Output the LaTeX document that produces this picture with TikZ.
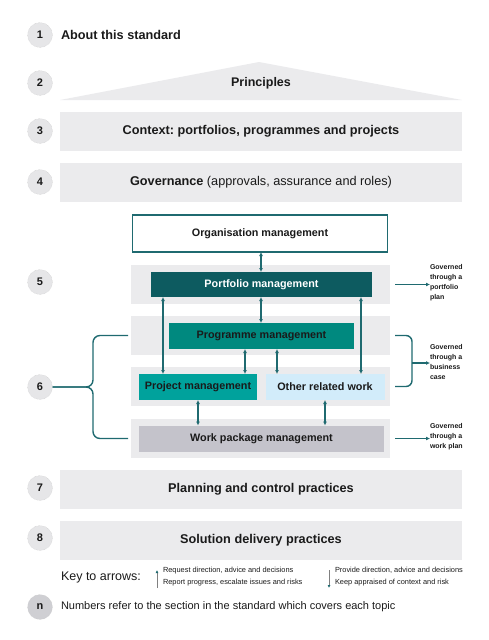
\documentclass[tikz,border=0pt]{standalone}
\usepackage{fontspec}
\setmainfont{Liberation Sans}
\usetikzlibrary{arrows.meta,calc}
\frenchspacing
\definecolor{bandgray}{HTML}{EBEBED}
\definecolor{circgray}{HTML}{E6E6E8}
\definecolor{ngray}{HTML}{CFCFD3}
\definecolor{tealdark}{HTML}{0D5B60}
\definecolor{tealmid}{HTML}{00897F}
\definecolor{teallight}{HTML}{00A29C}
\definecolor{paleblue}{HTML}{D2ECFA}
\definecolor{wpgray}{HTML}{C4C3CB}
\definecolor{linecol}{HTML}{1F6A70}
\definecolor{txt}{HTML}{1A1A1A}
\begin{document}
\begin{tikzpicture}[x=1pt,y=-1pt,
  every node/.style={text=txt, inner sep=0pt, outer sep=0pt},
  num/.style={circle, minimum size=25pt, fill=circgray, draw=gray!45, densely dotted, line width=0.4pt,
    font=\fontsize{11}{13}\selectfont\bfseries},
  band/.style={fill=bandgray, draw=none, rectangle},
  bigbox/.style={band, font=\fontsize{12.7}{15}\selectfont\bfseries},
  mbox/.style={rectangle, font=\fontsize{10.8}{13}\selectfont\bfseries},
  gov/.style={align=left, anchor=west, font=\fontsize{7}{10}\selectfont\bfseries},
  keytxt/.style={align=left, anchor=west, font=\fontsize{7.4}{12}\selectfont},
  conn/.style={draw=linecol, line width=1.4pt},
  dbl/.style={conn, {Latex[length=4pt,width=4pt]}-{Latex[length=4pt,width=4pt]}},
  sgl/.style={conn, -{Latex[length=4pt,width=4pt]}},
  keyarrow/.style={draw=gray, line width=0.7pt, -{Latex[length=3pt,width=3pt,color=linecol]}},
]
\useasboundingbox (0,0) rectangle (489,640);

% circles
\node[num] (c1) at (40,35) {1};
\node[num] (c2) at (40,83) {2};
\node[num] (c3) at (40,131) {3};
\node[num] (c4) at (40,182) {4};
\node[num] (c5) at (40,282) {5};
\node[num] (c6) at (40,387) {6};
\node[num] (c7) at (40,488) {7};
\node[num] (c8) at (40,538) {8};
\node[num, fill=ngray] (cn) at (40,607) {n};

% 1
\node[anchor=west, font=\fontsize{12.7}{15}\selectfont\bfseries] (about) at (61,35) {About this standard};

% 2 principles
\fill[bandgray] (60,100) -- (259,62) -- (462,100) -- cycle;
\node[font=\fontsize{12.5}{15}\selectfont\bfseries] (princ) at (261,83) {Principles};

% 3,4,7,8
\node[bigbox, minimum width=402pt, minimum height=39pt] (ctx) at (261,131.5) {Context: portfolios, programmes and projects};
\node[bigbox, minimum width=402pt, minimum height=39pt] (govn) at (261,182.5) {Governance \fontseries{m}\selectfont(approvals, assurance and roles)};
\node[bigbox, minimum width=402pt, minimum height=39pt] (plan) at (261,489.5) {Planning and control practices};
\node[bigbox, minimum width=402pt, minimum height=39pt] (sol) at (261,540.5) {Solution delivery practices};

% bands
\node[band, minimum width=259pt, minimum height=39pt] (b5) at (260.5,284.5) {};
\node[band, minimum width=259pt, minimum height=39pt] (bprog) at (260.5,335.5) {};
\node[band, minimum width=259pt, minimum height=39pt] (bproj) at (260.5,386.5) {};
\node[band, minimum width=259pt, minimum height=39pt] (bwp) at (260.5,438.5) {};

% boxes
\node[mbox, fill=white, draw=linecol, line width=1.4pt, minimum width=255pt, minimum height=37pt] (org) at (260,233.5) {Organisation management};
\node[mbox, fill=tealdark, text=white, minimum width=221pt, minimum height=25pt] (port) at (261.5,284.5) {Portfolio management};
\node[mbox, fill=tealmid, minimum width=185pt, minimum height=26pt] (prog) at (261.5,336) {Programme management};
\node[mbox, fill=teallight, minimum width=118pt, minimum height=26pt] (proj) at (198,387) {Project management};
\node[mbox, fill=paleblue, minimum width=119pt, minimum height=26pt] (other) at (325,387) {Other related work};
\node[mbox, fill=wpgray, minimum width=245pt, minimum height=26pt] (wp) at (261.5,438.5) {Work package management};

% vertical arrows
\draw[dbl] (org.south -| 261,0) -- (port.north -| 261,0);
\draw[dbl] (port.south -| 261,0) -- (prog.north -| 261,0);
\draw[dbl] (port.south -| 163,0) -- (proj.north -| 163,0);
\draw[dbl] (port.south -| 361,0) -- (other.north -| 361,0);
\draw[dbl] (prog.south -| 245,0) -- (proj.north -| 245,0);
\draw[dbl] (prog.south -| 277,0) -- (other.north -| 277,0);
\draw[dbl] (proj.south -| 198,0) -- (wp.north -| 198,0);
\draw[dbl] (other.south -| 325,0) -- (wp.north -| 325,0);

% governed texts
\node[gov] (g1) at (430,283) {Governed\\through a\\portfolio\\plan};
\node[gov] (g2) at (430,362) {Governed\\through a\\business\\case};
\node[gov] (g3) at (430,437) {Governed\\through a\\work plan};

\draw[sgl] ($(b5.east)+(5,0)$) -- (g1.west |- b5.east);
\draw[sgl] ($(bwp.east)+(5,0)$) -- (g3.west |- bwp.east);
\coordinate (rb) at (412,363);
\draw[conn, rounded corners=6pt] ($(bprog.east)+(5,0)$) -- (412,335.5) -- (rb);
\draw[conn, rounded corners=6pt] ($(bproj.east)+(5,0)$) -- (412,386.5) -- (rb);
\draw[sgl] (rb) -- (g2.west |- rb);

% left brace
\coordinate (lb) at (93,387);
\draw[conn, rounded corners=7pt] ($(bprog.west)+(-3,0)$) -- (93,335.5) -- (lb) -- (c6.east);
\draw[conn, rounded corners=7pt] ($(bwp.west)+(-3,0)$) -- (93,438.5) -- (lb) -- (c6.east);

% key
\node[anchor=west, font=\fontsize{12.5}{15}\selectfont] (key) at (61,577) {Key to arrows:};
\coordinate (k1a) at (157,588);
\coordinate (k1b) at (157,570);
\draw[keyarrow] (k1a) -- (k1b);
\node[keytxt] (kt1) at (163,577) {Request direction, advice and decisions\\Report progress, escalate issues and risks};
\coordinate (k2a) at (329,570);
\coordinate (k2b) at (329,588);
\draw[keyarrow] (k2a) -- (k2b);
\node[keytxt] (kt2) at (335,577) {Provide direction, advice and decisions\\Keep appraised of context and risk};

\node[anchor=west, font=\fontsize{11}{13}\selectfont] (note) at (61,607) {Numbers refer to the section in the standard which covers each topic};
\end{tikzpicture}
\end{document}
